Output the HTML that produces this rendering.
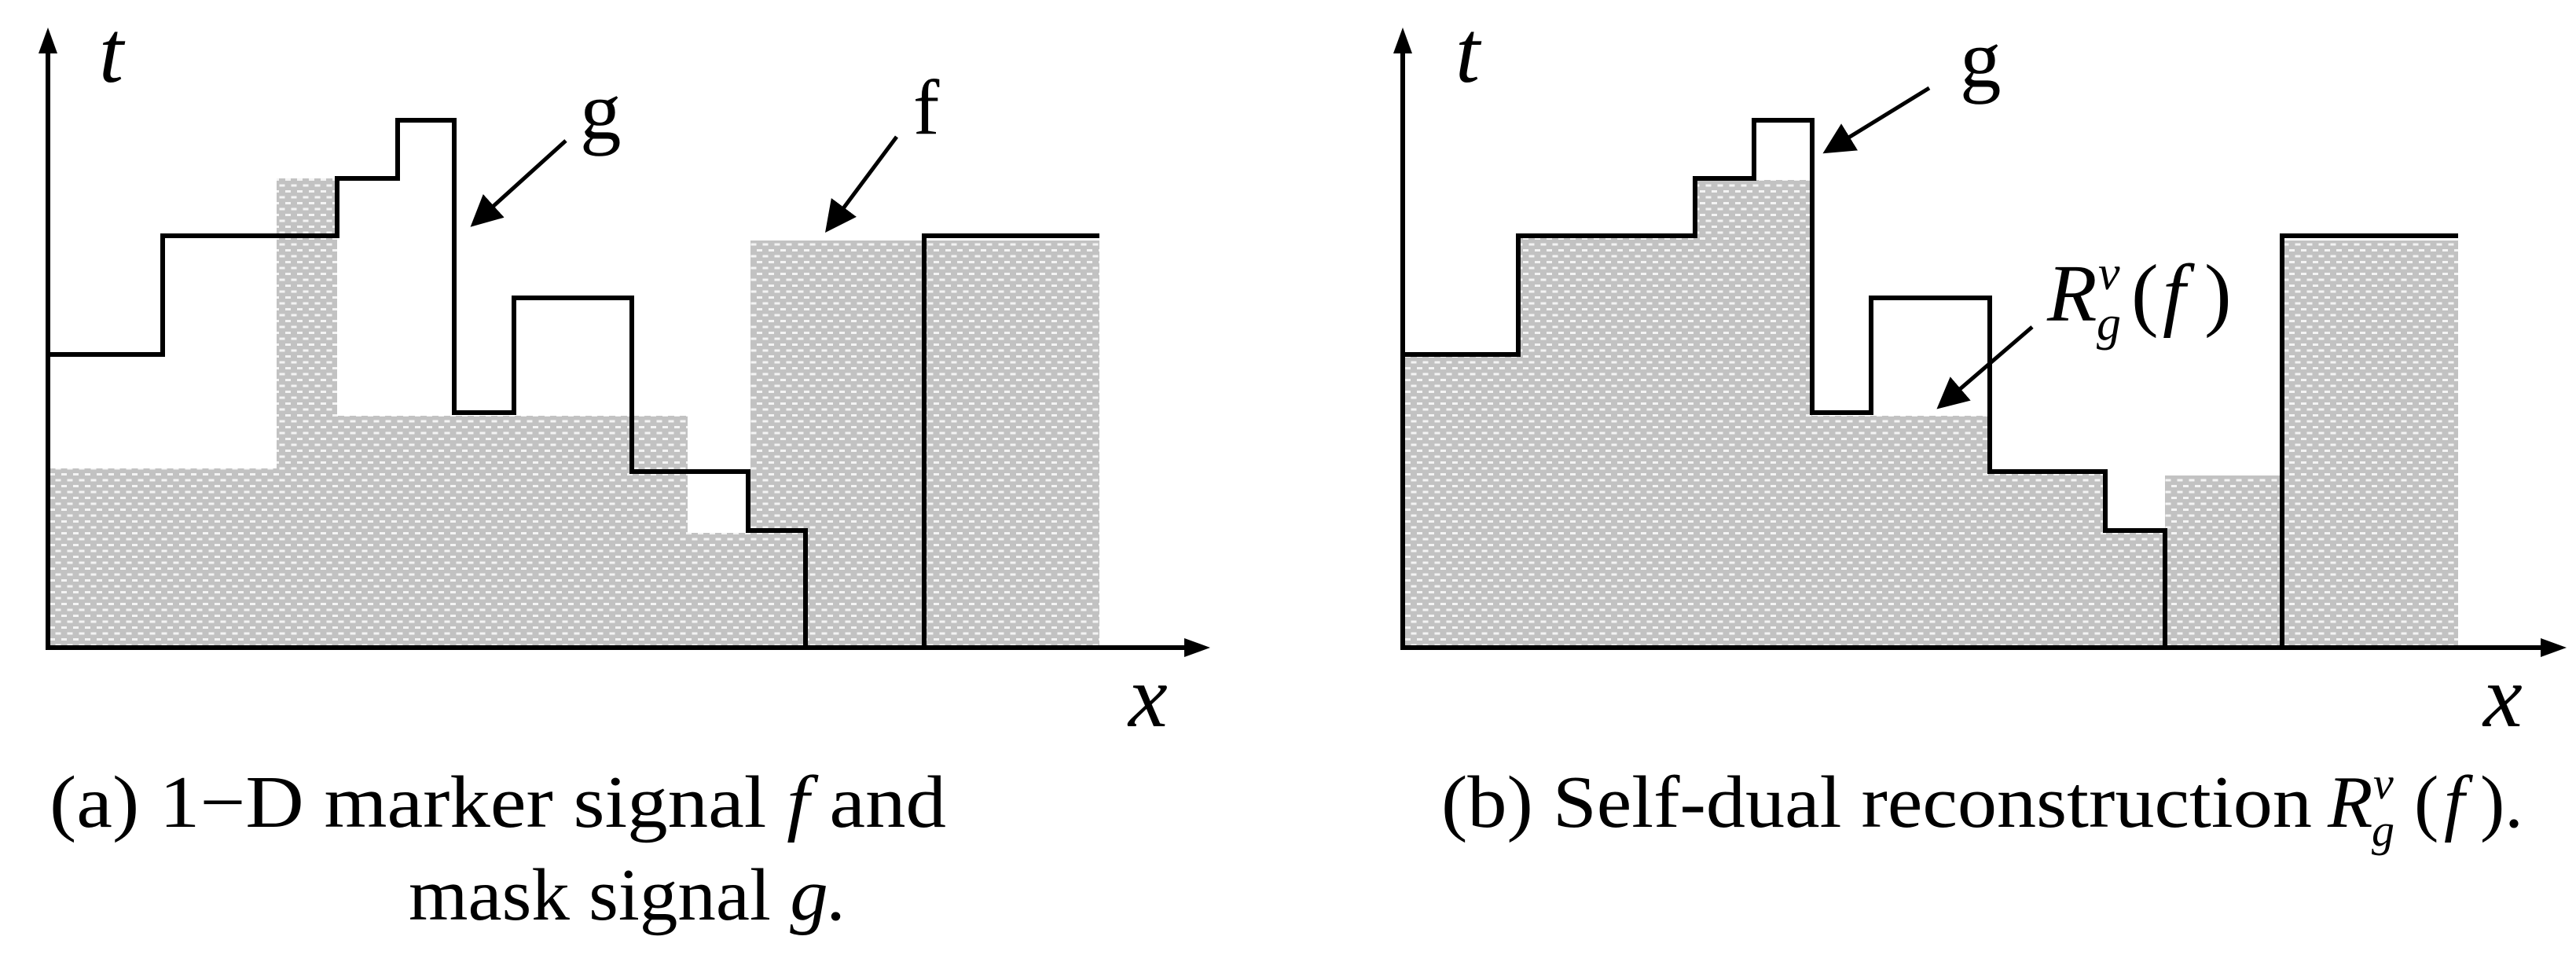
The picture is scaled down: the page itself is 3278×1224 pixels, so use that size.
<!DOCTYPE html>
<html><head><meta charset="utf-8"><style>html,body{margin:0;padding:0;background:#fff}svg{display:block}</style></head>
<body>
<svg width="3278" height="1224" viewBox="0 0 3278 1224" xmlns="http://www.w3.org/2000/svg">
<defs>
<pattern id="dots" width="15" height="15" patternUnits="userSpaceOnUse">
<rect width="15" height="15" fill="#c2c2c2"/>
<rect x="3" y="2" width="7" height="3" fill="#f4f4f4"/>
<rect x="10.5" y="9.5" width="7" height="3" fill="#f4f4f4"/>
<rect x="-4.5" y="9.5" width="7" height="3" fill="#f4f4f4"/>
</pattern>
<marker id="ah" markerWidth="8" markerHeight="8" refX="6" refY="4" orient="auto" markerUnits="strokeWidth">
<path d="M0,0 L8,4 L0,8 z" fill="#000"/>
</marker>
</defs>
<g font-family="'Liberation Serif', serif" fill="#000">
<path fill="url(#dots)" d="M61,824 V596 H352 V227 H429 V529 H875 V678 H955 V306 H1399 V824 Z"/>
<path fill="none" stroke="#000" stroke-width="6" d="M61,451 H207 V300 H429 V227 H506 V153 H578 V525 H654 V379 H804 V600 H952 V675 H1025 V824"/>
<path fill="none" stroke="#000" stroke-width="6" d="M1176,824 V300 H1399"/>
<line x1="61" y1="826" x2="61" y2="55" stroke="#000" stroke-width="6"/>
<path d="M61,35 L49,68 L73,68 Z"/>
<line x1="58" y1="824" x2="1515" y2="824" stroke="#000" stroke-width="6"/>
<path d="M1540,824 L1507,812 L1507,836 Z"/>
<text x="126" y="104" font-size="112" font-style="italic">t</text>
<text x="738" y="176" font-size="105">g</text>
<text x="1162" y="170" font-size="100">f</text>
<text x="1436" y="924" font-size="112" font-style="italic">x</text>
<line x1="720" y1="179" x2="606" y2="282" stroke="#000" stroke-width="5" marker-end="url(#ah)"/>
<line x1="1141" y1="174" x2="1056" y2="288" stroke="#000" stroke-width="5" marker-end="url(#ah)"/>
<text x="63" y="1052" font-size="94" textLength="1141" lengthAdjust="spacingAndGlyphs">(a) 1−D marker signal <tspan font-style="italic">f</tspan> and</text>
<text x="520" y="1170" font-size="94" textLength="558" lengthAdjust="spacingAndGlyphs">mask signal <tspan font-style="italic">g.</tspan></text>

<path fill="url(#dots)" d="M1785,824 V451 H1932 V300 H2157 V229 H2306 V529 H2532 V600 H2679 V675 H2755 V605 H2904 V306 H3128 V824 Z"/>
<path fill="none" stroke="#000" stroke-width="6" d="M1785,451 H1932 V300 H2157 V227 H2232 V153 H2306 V525 H2381 V379 H2532 V600 H2679 V675 H2755 V824"/>
<path fill="none" stroke="#000" stroke-width="6" d="M2904,824 V300 H3128"/>
<line x1="1785" y1="826" x2="1785" y2="55" stroke="#000" stroke-width="6"/>
<path d="M1785,35 L1773,68 L1797,68 Z"/>
<line x1="1782" y1="824" x2="3242" y2="824" stroke="#000" stroke-width="6"/>
<path d="M3266,824 L3233,812 L3233,836 Z"/>
<text x="1852" y="104" font-size="112" font-style="italic">t</text>
<text x="2494" y="110" font-size="105">g</text>
<text x="3160" y="924" font-size="112" font-style="italic">x</text>
<line x1="2455" y1="112" x2="2328" y2="190" stroke="#000" stroke-width="5" marker-end="url(#ah)"/>
<text x="2605" y="408" font-size="104" font-style="italic">R</text>
<text x="2670" y="368" font-size="62" font-style="italic">v</text>
<text x="2668" y="432" font-size="62" font-style="italic">g</text>
<text x="2712" y="408" font-size="104">(</text>
<text x="2752" y="408" font-size="104" font-style="italic">f</text>
<text x="2805" y="408" font-size="104">)</text>
<line x1="2586" y1="416" x2="2472" y2="514" stroke="#000" stroke-width="5" marker-end="url(#ah)"/>
<text x="1834" y="1052" font-size="94" textLength="1108" lengthAdjust="spacingAndGlyphs">(b) Self-dual reconstruction</text>
<text x="2962" y="1052" font-size="94" font-style="italic">R</text>
<text x="3020" y="1016" font-size="58" font-style="italic">v</text>
<text x="3018" y="1076" font-size="58" font-style="italic">g</text>
<text x="3072" y="1052" font-size="94">(</text>
<text x="3110" y="1052" font-size="94" font-style="italic">f</text>
<text x="3156" y="1052" font-size="94">).</text>
</g>
</svg>
</body></html>
